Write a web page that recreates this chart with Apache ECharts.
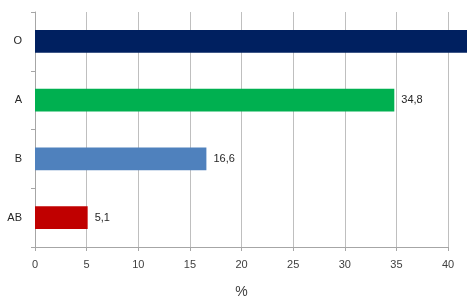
<!DOCTYPE html>
<html><head><meta charset="utf-8">
<script src="https://cdn.jsdelivr.net/npm/echarts@6/dist/echarts.min.js"></script>
<style>html,body{margin:0;padding:0;background:#fff}#c{width:474px;height:305px}</style>
</head><body><div id="c"></div>
<script>
const categories = ['O', 'A', 'B', 'AB'];
const values = [43.5, 34.8, 16.6, 5.1];
const colors = ['#002060', '#00B050', '#4F81BD', '#C00000'];
const axisMax = 40;
const axisInterval = 5;
const axisName = '%';

const W = 474, L = 35, R_AXIS = 26, R_PLOT = 7;
const chart = echarts.init(document.getElementById('c'));
const font = 'Liberation Sans, Arial, sans-serif';
// plot area is wider than the axis (bars are clipped at its right edge)
const plotMax = axisMax * (W - L - R_PLOT) / (W - L - R_AXIS);
chart.setOption({
  animation: false,
  backgroundColor: '#fff',
  grid: [
    { left: L, right: R_AXIS, top: 12, bottom: 58, outerBoundsMode: 'none', containLabel: false },
    { left: L, right: R_PLOT, top: 12, bottom: 58, outerBoundsMode: 'none', containLabel: false }
  ],
  xAxis: [{
    gridIndex: 0, type: 'value', min: 0, max: axisMax, interval: axisInterval,
    name: axisName, nameLocation: 'middle', nameGap: 38,
    nameTextStyle: { fontFamily: font, fontSize: 14, color: '#404040' },
    axisLine: { show: true, lineStyle: { color: '#A6A6A6' } },
    axisTick: { show: true, length: 4, lineStyle: { color: '#A6A6A6' } },
    axisLabel: { fontFamily: font, fontSize: 11, color: '#404040', margin: 12 },
    splitLine: { show: true, lineStyle: { color: '#BFBFBF', width: 1 } }
  }, {
    gridIndex: 1, type: 'value', min: 0, max: plotMax, show: false,
    splitLine: { show: false }
  }],
  yAxis: [{
    gridIndex: 0, type: 'category', data: categories, inverse: true,
    axisLine: { show: true, lineStyle: { color: '#A6A6A6' } },
    axisTick: { show: true, length: 4, lineStyle: { color: '#A6A6A6' } },
    axisLabel: { fontFamily: font, fontSize: 11, color: '#262626', margin: 13 }
  }, {
    gridIndex: 1, type: 'category', data: categories, inverse: true, show: false
  }],
  series: [{
    type: 'bar', xAxisIndex: 1, yAxisIndex: 1, barWidth: '39%', clip: true,
    data: values.map((v, i) => ({
      value: v,
      itemStyle: { color: colors[i] },
      label: { show: v <= plotMax }
    })),
    label: {
      position: 'right', distance: 7, fontFamily: font, fontSize: 11, color: '#262626',
      formatter: p => String(p.value).replace('.', ',')
    }
  }]
});
</script></body></html>
